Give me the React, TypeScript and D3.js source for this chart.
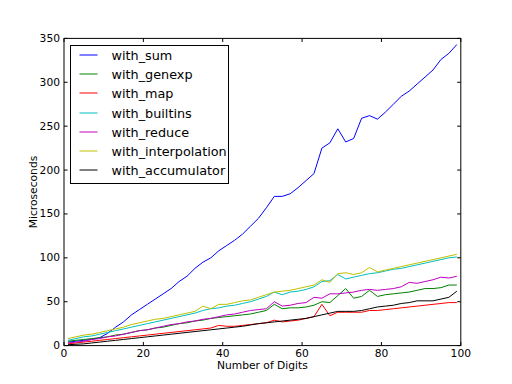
import * as d3 from "d3";

// x positions: number of digits 1, 3, 5, ... 99
const digits = d3.range(1, 100, 2);

const withSum = [
  4, 5, 6, 7, 9, 14, 21, 27, 35, 41, 47, 53, 59, 65, 73, 79, 88, 95, 100, 108,
  114, 120, 127, 136, 145, 157, 170, 170, 173, 180, 188, 196, 225, 231, 247,
  232, 236, 259, 262, 258, 266, 275, 284, 290, 298, 306, 314, 326, 333, 343,
];
const withGenexp = [
  5, 6, 7, 8, 9, 10, 12, 13, 15, 17, 18, 20, 21, 23, 25, 26, 28, 29, 31, 32,
  33, 34, 35, 36, 38, 40, 47, 42, 43, 43, 44, 46, 50, 49, 57, 65, 54, 56, 63,
  56, 58, 59, 60, 61, 63, 65, 65, 66, 69, 69,
];
const withMap = [
  2, 3, 4, 5, 6, 7, 8, 9, 10, 11, 12, 13, 14, 15, 16, 17, 18, 19, 20, 23, 22,
  22, 23, 24, 25, 26, 29, 27, 28, 29, 31, 33, 47, 34, 38, 38, 38, 38, 40, 40,
  41, 42, 43, 44, 45, 46, 47, 48, 49, 49,
];
const withBuiltins = [
  6, 8, 10, 11, 13, 15, 17, 19, 21, 23, 25, 27, 29, 31, 33, 35, 37, 40, 42, 43,
  45, 46, 48, 50, 53, 56, 61, 58, 61, 62, 64, 67, 73, 74, 81, 76, 78, 80, 82,
  83, 85, 87, 88, 90, 92, 94, 96, 98, 100, 101,
];
const withReduce = [
  3, 4, 5, 7, 8, 10, 11, 13, 15, 17, 18, 20, 22, 24, 25, 27, 28, 30, 31, 33,
  35, 36, 38, 40, 41, 42, 50, 45, 46, 48, 49, 55, 54, 59, 59, 60, 61, 63, 64,
  63, 64, 65, 67, 72, 71, 73, 75, 78, 77, 79,
];
const withInterpolation = [
  8, 10, 12, 13, 15, 17, 19, 21, 24, 26, 28, 30, 31, 33, 35, 37, 39, 45, 42,
  47, 47, 49, 51, 52, 55, 58, 61, 62, 63, 65, 67, 69, 75, 72, 82, 83, 81, 83,
  89, 84, 86, 88, 90, 92, 94, 96, 98, 100, 102, 104,
];
const withAccumulator = [
  1, 1.5, 2, 3, 4, 5, 6, 7, 8, 9, 10, 11, 12, 13, 14, 15, 16, 17, 18, 19, 20,
  21, 22, 23.5, 25, 26, 27, 28, 29, 30, 31, 33, 35, 37, 39, 39, 39, 40, 42, 44,
  45, 46, 48, 49, 51, 51, 51, 53, 55, 62,
];

const seriesNames = [
  "with_sum",
  "with_genexp",
  "with_map",
  "with_builtins",
  "with_reduce",
  "with_interpolation",
  "with_accumulator",
];
const seriesValues = [
  withSum,
  withGenexp,
  withMap,
  withBuiltins,
  withReduce,
  withInterpolation,
  withAccumulator,
];
const seriesColors = [
  "#0000ff",
  "#008000",
  "#ff0000",
  "#00bfbf",
  "#bf00bf",
  "#bfbf00",
  "#000000",
];

const xTicks = [0, 20, 40, 60, 80, 100];
const yTicks = [0, 50, 100, 150, 200, 250, 300, 350];

const width = 512;
const height = 384;
const margin = { top: 38.4, right: 51.2, bottom: 38.4, left: 64 };
const font = "DejaVu Sans, sans-serif";
const tickLen = 3.6;

export default function App() {
  const x = d3
    .scaleLinear()
    .domain([0, 100])
    .range([margin.left, width - margin.right]);
  const y = d3
    .scaleLinear()
    .domain([0, 350])
    .range([height - margin.bottom, margin.top]);

  const line = d3
    .line<number>()
    .x((_, i) => x(digits[i]))
    .y((d) => y(d));

  const x0 = x.range()[0];
  const x1 = x.range()[1];
  const y0 = y.range()[0];
  const y1 = y.range()[1];

  // legend box
  const lg = { x: 70.5, y: 45.5, w: 158, h: 138, row: 19.2 };

  return (
    <svg
      width={width}
      height={height}
      viewBox={`0 0 ${width} ${height}`}
      style={{ position: "absolute", left: 0, top: 0, background: "#fff" }}
      fontFamily={font}
    >
      <rect x={0} y={0} width={width} height={height} fill="#fff" />

      {/* lines */}
      <g fill="none" strokeWidth={1}>
        {seriesValues.map((vals, i) => (
          <path key={i} d={line(vals) ?? ""} stroke={seriesColors[i]} />
        ))}
      </g>

      {/* frame */}
      <rect
        x={x0}
        y={y1}
        width={x1 - x0}
        height={y0 - y1}
        fill="none"
        stroke="#000"
        strokeWidth={1}
      />

      {/* x ticks */}
      {xTicks.map((t) => (
        <g key={t}>
          <line x1={x(t)} x2={x(t)} y1={y0} y2={y0 - tickLen} stroke="#000" />
          <line x1={x(t)} x2={x(t)} y1={y1} y2={y1 + tickLen} stroke="#000" />
          <text x={x(t)} y={y0 + 11.2} fontSize={10.7} textAnchor="middle">
            {t}
          </text>
        </g>
      ))}

      {/* y ticks */}
      {yTicks.map((t) => (
        <g key={t}>
          <line x1={x0} x2={x0 + tickLen} y1={y(t)} y2={y(t)} stroke="#000" />
          <line x1={x1} x2={x1 - tickLen} y1={y(t)} y2={y(t)} stroke="#000" />
          <text
            x={x0 - 4}
            y={y(t)}
            fontSize={10.7}
            textAnchor="end"
            dominantBaseline="central"
          >
            {t}
          </text>
        </g>
      ))}

      <text
        x={(x0 + x1) / 2}
        y={y0 + 23.6}
        fontSize={10.7}
        textAnchor="middle"
      >
        Number of Digits
      </text>
      <text
        transform={`translate(${x0 - 27},${(y0 + y1) / 2}) rotate(-90)`}
        fontSize={10.7}
        textAnchor="middle"
      >
        Microseconds
      </text>

      {/* legend */}
      <rect
        x={lg.x}
        y={lg.y}
        width={lg.w}
        height={lg.h}
        fill="#fff"
        stroke="#000"
        strokeWidth={1}
      />
      {seriesNames.map((name, i) => {
        const cy = Math.round(lg.y + 9.5 + i * lg.row);
        return (
          <g key={name}>
            <line
              x1={lg.x + 9}
              x2={lg.x + 27}
              y1={cy}
              y2={cy}
              stroke={seriesColors[i]}
              strokeWidth={1}
            />
            <text x={lg.x + 41} y={cy} fontSize={12.8} dominantBaseline="central">
              {name}
            </text>
          </g>
        );
      })}
    </svg>
  );
}
